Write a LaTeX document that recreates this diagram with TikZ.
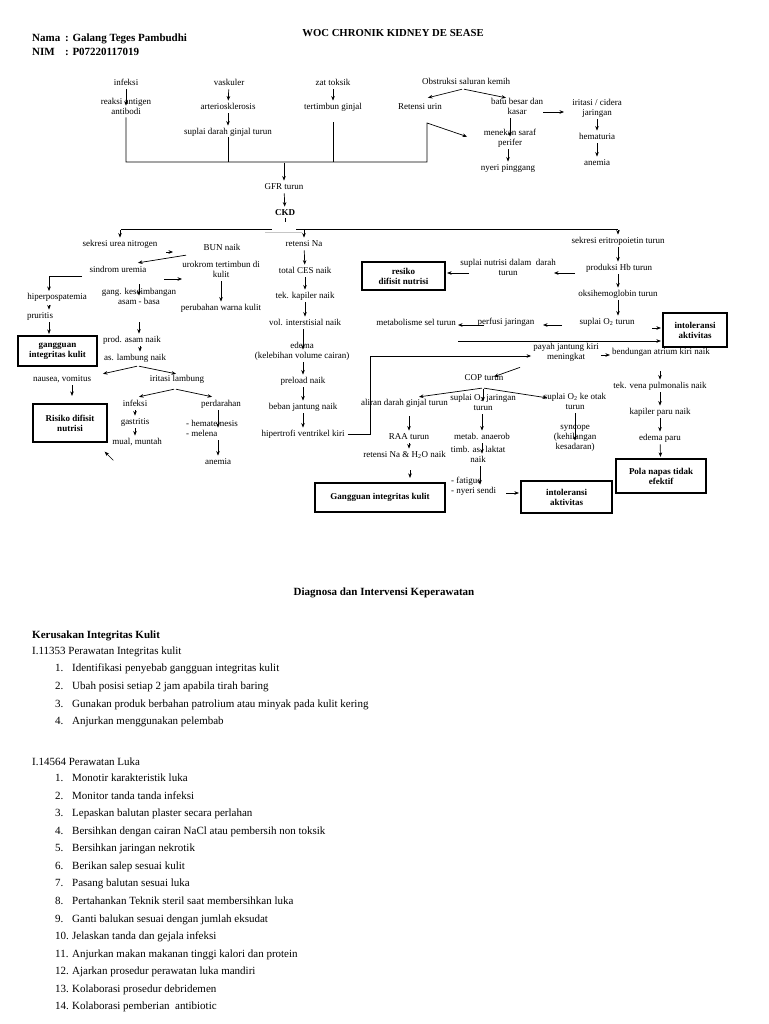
\documentclass[tikz,border=0pt]{standalone}
\usepackage{fontspec}
\setmainfont{Liberation Serif}
\usetikzlibrary{arrows.meta}
\begin{document}
\begin{tikzpicture}[x=1pt,y=-1pt,
  lbl/.style={font=\fontsize{9}{10}\selectfont, align=center, inner sep=1pt, text height=6.5pt, text depth=2pt},
  arr/.style={-{Stealth[length=4.5pt,width=3.6pt]}, line width=0.7pt, shorten <=1pt, shorten >=1pt},
  ln/.style={line width=0.8pt},
  bx/.style={draw, line width=2.2pt, align=center, font=\fontsize{9}{10}\selectfont\bfseries, inner sep=1pt},
  hd/.style={font=\fontsize{11}{13}\selectfont\bfseries, inner sep=0pt},
  tx/.style={font=\fontsize{11}{13}\selectfont, inner sep=0pt, anchor=base west},
]
\useasboundingbox (0,0) rectangle (768,1024);
\fill[white] (0,0) rectangle (768,1024);

% header
\node[hd, anchor=base west] (nama) at (32,42) {Nama};
\node[hd, anchor=base west] (namav) at (65,42) {: Galang Teges Pambudhi};
\node[hd, anchor=base west] (nim) at (32,56) {NIM};
\node[hd, anchor=base west] (nimv) at (65,56) {: P07220117019};
\node[hd, font=\fontsize{10.7}{12}\selectfont\bfseries] (title) at (393,33) {WOC CHRONIK KIDNEY DE SEASE};

% top rows
\node[lbl] (inf1) at (126,83) {infeksi};
\node[lbl] (vask) at (229,83) {vaskuler};
\node[lbl] (zat) at (333,83) {zat toksik};
\node[lbl] (obs) at (466,82) {Obstruksi saluran kemih};
\node[lbl] (reaksi) at (126,112) {reaksi antigen\\antibodi};
\node[lbl] (arter) at (228,107) {arteriosklerosis};
\node[lbl] (tert) at (333,107) {tertimbun ginjal};
\node[lbl] (retu) at (420,107) {Retensi urin};
\node[lbl] (batu) at (517,112) {batu besar dan\\kasar};
\node[lbl] (irit) at (597,113) {iritasi / cidera\\jaringan};
\node[lbl] (supd) at (228,132) {suplai darah ginjal turun};
\node[lbl] (menek) at (510,143) {menekan saraf\\perifer};
\node[lbl] (nyeri) at (508,168) {nyeri pinggang};
\node[lbl] (hemat) at (597,137) {hematuria};
\node[lbl] (anem1) at (597,163) {anemia};

\draw[arr] (inf1) -- (reaksi);
\draw[arr] (vask) -- (arter);
\draw[arr] (arter) -- (supd);
\draw[arr] (zat) -- (tert);
\coordinate (obsf) at (463,89);
\draw[arr] (obsf) -- (427,98);
\draw[arr] (obsf) -- (507,98);
\draw[arr] (menek.north |- batu.south) -- (menek.north);
\draw[arr] (menek.south -| nyeri.north) -- (nyeri.north);
\draw[arr] (542,112) -- (565,112);
\draw[arr] (irit) -- (hemat);
\draw[arr] (hemat) -- (anem1);

\coordinate (bR) at (427,162);
\coordinate (rtop) at (427,123);
\coordinate (rtip) at (468,137);
\draw[ln, arr, shorten <=0pt] (reaksi.south) |- (bR) -- (rtop) -- (rtip);
\draw[ln] (supd.south) -- (supd.south |- bR);
\draw[ln] ([yshift=-10pt]tert.south) -- (tert.south |- bR);

\node[lbl] (gfr) at (284,187) {GFR turun};
\node[lbl, font=\fontsize{9}{10}\selectfont\bfseries] (ckd) at (285,213) {CKD};
\draw[arr] (gfr.north |- bR) -- (gfr.north);
\draw[arr] (gfr) -- (ckd);
\draw[ln] (ckd.south) -- ([yshift=-4pt]ckd.south);

% bar
\coordinate (bar) at (0,229);
\draw[ln] (121,229) -- (272,229);
\draw[ln] (296,229) -- (618,229);
\draw[gray!45, line width=0.9pt] (265,232) -- (302,232);

% left column
\node[lbl] (sekU) at (120,244) {sekresi urea nitrogen};
\node[lbl] (bun) at (222,248) {BUN naik};
\node[lbl] (sind) at (118,270) {sindrom uremia};
\node[lbl] (urok) at (221,275) {urokrom tertimbun di\\kulit};
\node[lbl] (hiper) at (57,297) {hiperpospatemia};
\node[lbl] (gang) at (139,302) {gang. keseimbangan\\asam - basa};
\node[lbl] (perub) at (221,308) {perubahan warna kulit};
\node[lbl] (prur) at (40,316) {pruritis};
\node[bx, minimum width=79pt, minimum height=30pt] (gik) at (57.5,351) {gangguan\\integritas kulit};
\node[lbl] (prod) at (132,340) {prod. asam naik};
\node[lbl] (asl) at (135,358) {as. lambung naik};
\node[lbl] (naus) at (62,379) {nausea, vomitus};
\node[lbl] (iril) at (177,379) {iritasi lambung};
\node[bx, minimum width=74pt, minimum height=38pt] (rdn) at (70,423) {Risiko difisit\\nutrisi};
\node[lbl] (inf2) at (135,404) {infeksi};
\node[lbl] (perd) at (221,404) {perdarahan};
\node[lbl] (gast) at (135,422) {gastritis};
\node[lbl] (mual) at (137,442) {mual, muntah};
\node[lbl, align=left, anchor=west] (hmt) at (185,434) {- hematemesis\\- melena};
\node[lbl] (anem2) at (218,462) {anemia};

\draw[arr] (sekU.north |- bar) -- (sekU.north);
\draw[arr] (165,252) -- (174,252);
\draw[arr] (187,255) -- (137,263);
\draw[arr] (163,279) -- (183,279);
\draw[arr] (83,276) -| (49,292);
\draw[arr, shorten <=9pt] (gang.north |- sind.south) -- (gang.north);
\draw[arr] (urok) -- (perub);
\draw[arr] (49,304) -- (prur.north -| 49,0);
\draw[arr] (prur.south -| 49,0) -- (gik.north -| 49,0);
\draw[arr, shorten <=15pt] (gang.south) -- (prod.north -| gang.south);
\draw[arr] (prod.south -| 140,0) -- (asl.north -| 140,0);
\coordinate (aslf) at (138,366);
\draw[arr] (aslf) -- (102,374);
\draw[arr] (aslf) -- (177,374);
\draw[arr, shorten >=7pt] (naus.south -| 72,0) -- (rdn.north -| 72,0);
\coordinate (irlf) at (175,389);
\draw[arr] (irlf) -- (138,397);
\draw[arr] (irlf) -- (213,397);
\draw[arr] (inf2) -- (gast);
\draw[arr] (gast.south) -- (mual.north -| gast.south);
\draw[arr] (perd.south -| 218,0) -- (hmt.north -| 218,0);
\draw[arr] (hmt.south -| anem2.north) -- (anem2.north);
\draw[arr] (114,461) -- (104,451);

% middle column
\node[lbl] (retNa) at (304,244) {retensi Na};
\node[lbl] (totc) at (305,271) {total CES naik};
\node[lbl] (tekk) at (305,296) {tek. kapiler naik};
\node[lbl] (vol) at (305,323) {vol. interstisial naik};
\node[lbl] (edm) at (302,356) {edema\\(kelebihan volume cairan)};
\node[lbl] (prel) at (303,381) {preload naik};
\node[lbl] (beb) at (303,407) {beban jantung naik};
\node[lbl] (hipt) at (303,434) {hipertrofi ventrikel kiri};

\draw[arr] (retNa.north |- bar) -- (retNa.north);
\draw[arr] (retNa) -- (totc);
\draw[arr] (totc) -- (tekk);
\draw[arr] (tekk) -- (vol);
\draw[arr] (vol.south -| 303,0) -- (edm.north -| 303,0);
\draw[arr] (edm.south -| 303,0) -- (prel.north -| 303,0);
\draw[arr] (prel) -- (beb);
\draw[arr] (beb) -- (hipt);

% right column
\node[lbl] (sekE) at (618,241) {sekresi eritropoietin turun};
\node[lbl] (prodHb) at (619,268) {produksi Hb turun};
\node[lbl] (oksi) at (618,294) {oksihemoglobin turun};
\node[lbl] (supO2) at (607,322) {suplai O\textsubscript{2} turun};
\node[lbl] (supN) at (508,273) {suplai nutrisi dalam\ \ darah\\turun};
\node[bx, minimum width=83pt, minimum height=28pt] (rdn2) at (403.5,276) {resiko\\difisit nutrisi};
\node[lbl] (metab1) at (416,323) {metabolisme sel turun};
\node[lbl] (perf) at (506,322) {perfusi jaringan};
\node[lbl] (payah) at (566,357) {payah jantung kiri\\meningkat};
\node[lbl] (bend) at (661,352) {bendungan atrium kiri naik};
\node[bx, fill=white, minimum width=64pt, minimum height=34pt] (intol1) at (695,330) {intoleransi\\aktivitas};
\node[lbl] (tekv) at (660,386) {tek. vena pulmonalis naik};
\node[lbl] (kap) at (660,412) {kapiler paru naik};
\node[lbl] (edp) at (660,438) {edema paru};
\node[bx, minimum width=90pt, minimum height=34pt] (pola) at (661,476) {Pola napas tidak\\efektif};

\draw[arr] (sekE.north |- bar) -- (sekE.north);
\draw[arr] (sekE.south -| 618,0) -- (prodHb.north -| 618,0);
\draw[arr] (prodHb.south -| 618,0) -- (oksi.north -| 618,0);
\draw[arr] (oksi.south -| 618,0) -- (supO2.north -| 618,0);
\draw[arr] (576,273) -- (553,273);
\draw[arr] (470,273) -- (rdn2.east |- 0,273);
\draw[arr] (563,325) -- (542,325);
\draw[arr] (485,325) -- (457,325);
\draw[arr] (651,328) -- (intol1.west |- 0,328);
\draw[arr] (457,341) -- (intol1.west |- 0,341);
\draw[ln, arr, shorten <=2pt] (hipt.east) -- (370,434) -- (370,356) -- (payah.west |- 0,356);
\draw[arr] (payah.east |- 0,355) -- (bend.west |- 0,355);
\draw[arr, shorten <=14pt] (bend.south -| tekv.north) -- (tekv.north);
\draw[arr] (tekv) -- (kap);
\draw[arr] (kap) -- (edp);
\draw[arr] (edp) -- (pola);

% lower middle
\node[lbl] (cop) at (484,378) {COP turun};
\node[lbl, anchor=east] (alir) at (449,403) {aliran darah ginjal turun};
\node[lbl] (supJ) at (483,408) {suplai O\textsubscript{2} jaringan\\turun};
\node[lbl] (supOt) at (575,407) {suplai O\textsubscript{2} ke otak\\turun};
\node[lbl] (raa) at (409,437) {RAA turun};
\node[lbl] (metab2) at (482,437) {metab. anaerob};
\node[lbl, anchor=east] (retNH) at (447,455) {retensi Na \& H\textsubscript{2}O naik};
\node[lbl] (timb) at (478,460) {timb. as. laktat\\naik};
\node[lbl] (sync) at (575,447) {syncope\\(kehilangan\\kesadaran)};
\node[lbl, anchor=west, align=left] (fat) at (450,491) {- fatigue\\- nyeri sendi};
\node[bx, minimum width=130pt, minimum height=29pt] (gik2) at (380,497.5) {Gangguan integritas kulit};
\node[bx, minimum width=91pt, minimum height=32pt] (intol2) at (566.5,497) {intoleransi\\aktivitas};

\draw[arr] (521,367) -- (493,377);
\coordinate (copf) at (483,388);
\draw[arr] (copf) -- (418,397);
\draw[arr] (copf) -- (548,398);
\draw[arr] (copf) -- (supJ.north);
\draw[arr, shorten <=8pt] (raa.north |- alir.south) -- (raa.north);
\draw[arr] (supJ.south -| metab2.north) -- (metab2.north);
\draw[arr] (raa.south) -- (retNH.north -| raa.south);
\draw[arr] (metab2.south) -- (timb.north -| metab2.south);
\draw[arr, shorten <=10pt, shorten >=4pt] (retNH.south -| 410,0) -- (gik2.north -| 410,0);
\draw[arr] (timb.south -| 480,0) -- (fat.north -| 480,0);
\draw[arr] (supOt) -- (sync);
\draw[arr] (505,493) -- (intol2.west |- 0,493);

% bottom text
\node[hd] (diag) at (384,593) {Diagnosa dan Intervensi Keperawatan};
\node[hd, anchor=base west] (ker) at (32,638) {Kerusakan Integritas Kulit};
\node[tx] (i1) at (32,654) {I.11353 Perawatan Integritas kulit};
\foreach \t [count=\k] in {Identifikasi penyebab gangguan integritas kulit, Ubah posisi setiap 2 jam apabila tirah baring, Gunakan produk berbahan patrolium atau minyak pada kulit kering, Anjurkan menggunakan pelembab}
{
  \node[tx] (an\k) at (55,{671.7+(\k-1)*17.7}) {\k.};
  \node[tx] (at\k) at (72,{671.7+(\k-1)*17.7}) {\t};
}
\node[tx] (i2) at (32,765.7) {I.14564 Perawatan Luka};
\foreach \t [count=\k] in {Monotir karakteristik luka, Monitor tanda tanda infeksi, Lepaskan balutan plaster secara perlahan, Bersihkan dengan cairan NaCl atau pembersih non toksik, Bersihkan jaringan nekrotik, Berikan salep sesuai kulit, Pasang balutan sesuai luka, Pertahankan Teknik steril saat membersihkan luka, Ganti balukan sesuai dengan jumlah eksudat, Jelaskan tanda dan gejala infeksi, Anjurkan makan makanan tinggi kalori dan protein, Ajarkan prosedur perawatan luka mandiri, Kolaborasi prosedur debridemen, Kolaborasi pemberian\ \ antibiotic}
{
  \node[tx] (bn\k) at (55,{781.7+(\k-1)*17.54}) {\k.};
  \node[tx] (bt\k) at (72,{781.7+(\k-1)*17.54}) {\t};
}
\end{tikzpicture}
\end{document}
